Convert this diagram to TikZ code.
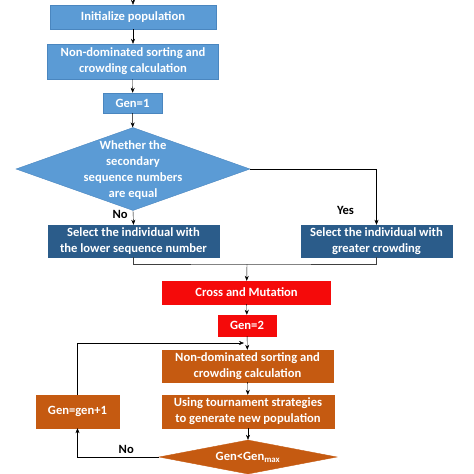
\documentclass[tikz,border=0pt]{standalone}
\usepackage{fontspec}
\setmainfont{Carlito}
\usetikzlibrary{arrows.meta,shapes.geometric}

\definecolor{lightblue}{HTML}{5B9BD5}
\definecolor{lightblueline}{HTML}{4A86BF}
\definecolor{darkblue}{HTML}{2B5C8A}
\definecolor{flowred}{HTML}{F50A0A}
\definecolor{rust}{HTML}{C55A11}

\tikzset{
  boxfont/.style={font=\fontsize{12.6}{16}\selectfont\bfseries},
  box/.style={rectangle, text=white, boxfont, align=center, inner sep=0pt},
  bluebox/.style={box, fill=lightblue, draw=lightblueline},
  darkbox/.style={box, fill=darkblue, draw=darkblue},
  redbox/.style={box, fill=flowred, draw=flowred},
  rustbox/.style={box, fill=rust, draw=rust},
  boxtext/.style={text=white, boxfont, align=center, inner sep=0pt},
  flowarrow/.style={-{Stealth[length=5pt,width=4pt]}, black},
  flowline/.style={draw=black!75},
  flowlabel/.style={text=black, boxfont}
}

\begin{document}
\begin{tikzpicture}[x=1pt,y=-1pt]
\useasboundingbox (0,0) rectangle (474,474);
\coordinate (start) at (133,0);
% upper part
\node[bluebox, minimum width=166, minimum height=24] (init) at (133,17) {Initialize population};
\node[bluebox, minimum width=171, minimum height=35] (sort1) at (133,61.5) {Non-dominated sorting and\\crowding calculation};
\node[bluebox, minimum width=59, minimum height=20] (gen1) at (132.5,103) {Gen=1};
\node[bluebox, diamond, aspect=2.8, minimum width=234, minimum height=83] (cond) at (133,169) {};
\node[boxtext] (condtext) at (133,170.5) {Whether the\\secondary\\sequence numbers\\are equal};
\node[darkbox, minimum width=171, minimum height=32] (lower) at (133.5,241) {Select the individual with\\the lower sequence number};
\node[darkbox, minimum width=151, minimum height=32] (crowd) at (376.5,241) {Select the individual with\\greater crowding};
\coordinate (merge) at (247,264);
% lower part
\node[redbox, minimum width=168, minimum height=23] (cross) at (246.5,292.5) {Cross and Mutation};
\node[redbox, minimum width=58, minimum height=21] (gen2) at (247,325.5) {Gen=2};
\node[rustbox, minimum width=171, minimum height=32] (sort2) at (247.5,366) {Non-dominated sorting and\\crowding calculation};
\node[rustbox, minimum width=172, minimum height=33] (tour) at (248,411.5) {Using tournament strategies\\to generate new population};
\node[rustbox, diamond, aspect=5.2, minimum width=178, minimum height=34] (check) at (248,457) {};
\node[boxtext] (checktext) at (248,457) {Gen<Gen\textsubscript{max}};
\node[rustbox, minimum width=83, minimum height=33] (next) at (77.5,411.5) {Gen=gen+1};
\coordinate (loopin) at (244,343);

\draw[flowarrow] (start) -- (init);
\draw[flowarrow] (init) -- (sort1);
\draw[flowarrow] (sort1) -- (gen1);
\draw[flowarrow] (gen1) -- (cond);
\draw[flowarrow] (cond.south) -- node[left, pos=0.3, xshift=-2pt, flowlabel] {No} (lower.north);
\draw[flowarrow] (cond.east) -| node[pos=0.87, left, xshift=-19pt, flowlabel] {Yes} (crowd.north);
\draw[flowline] (lower.south) |- (merge) -| (crowd.south);
\draw[flowarrow] (merge) -- (cross);
\draw[flowarrow] (cross) -- (gen2);
\draw[flowarrow] (gen2) -- (sort2);
\draw[flowarrow] (sort2) -- (tour);
\draw[flowarrow] (tour) -- (check);
\draw[flowarrow] (check.west) -| node[pos=0.2, above, flowlabel] {No} (next.south);
\draw[flowarrow] (next.north) |- (loopin);
\end{tikzpicture}
\end{document}
